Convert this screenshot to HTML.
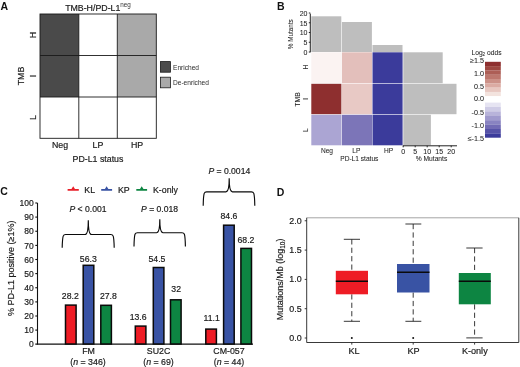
<!DOCTYPE html>
<html lang="en">
<head>
<meta charset="utf-8">
<title>Figure</title>
<style>
html,body{margin:0;padding:0;background:#fff;}
body{width:520px;height:367px;overflow:hidden;}
svg{display:block;}
svg text{font-family:"Liberation Sans",Arial,Helvetica,sans-serif;fill:#1a1a1a;stroke:#1a1a1a;stroke-width:0.18px;}
.b{font-weight:bold;fill:#111;stroke:none;}
.m{text-anchor:middle;}
#panelB text{stroke-width:0.06px;fill:#262626;}
#panelB text.b{stroke:none;fill:#111;}
.sm{stroke:none !important;fill:#2a2a2a !important;}
.e{text-anchor:end;}
</style>
</head>
<body>
<svg width="520" height="367" viewBox="0 0 520 367">
<rect x="0" y="0" width="520" height="367" fill="#ffffff"/>

<!-- ================= Panel A ================= -->
<g id="panelA">
<text class="b" x="0.5" y="10" font-size="10.5">A</text>
<text class="m" x="98" y="10.7" font-size="8.8">TMB-H/PD-L1<tspan font-size="6.3" dy="-3.4" style="stroke:none;fill:#333">neg</tspan></text>
<rect x="40" y="14" width="38.8" height="83" fill="#4a4a4a"/>
<rect x="117.3" y="14" width="39" height="83" fill="#a9a9a9"/>
<g stroke="#1a1a1a" stroke-width="0.9" fill="none">
<rect x="40" y="14" width="116.3" height="124.3"/>
<line x1="78.8" y1="14" x2="78.8" y2="138.3"/>
<line x1="117.3" y1="14" x2="117.3" y2="138.3"/>
<line x1="40" y1="55.5" x2="156.3" y2="55.5"/>
<line x1="40" y1="97" x2="156.3" y2="97"/>
</g>
<text class="m" font-size="8.8" transform="translate(35.7,35) rotate(-90)">H</text>
<text class="m" font-size="8.8" transform="translate(35.7,76) rotate(-90)">I</text>
<text class="m" font-size="8.8" transform="translate(35.7,117.5) rotate(-90)">L</text>
<text class="m" font-size="8.8" transform="translate(24.2,76) rotate(-90)">TMB</text>
<text class="m" x="60" y="148.1" font-size="8.8">Neg</text>
<text class="m" x="98" y="148.1" font-size="8.8">LP</text>
<text class="m" x="137" y="148.1" font-size="8.8">HP</text>
<text class="m" x="98" y="161.8" font-size="8.8">PD-L1 status</text>
<rect x="160.4" y="61.6" width="10" height="10.6" fill="#4b4b4b" stroke="#1a1a1a" stroke-width="0.8"/>
<rect x="160.4" y="77.2" width="10" height="10.6" fill="#a9a9a9" stroke="#1a1a1a" stroke-width="0.8"/>
<text class="sm" x="173" y="69.8" font-size="6.6">Enriched</text>
<text class="sm" x="173" y="85.3" font-size="6.6">De-enriched</text>
</g>

<!-- ================= Panel B ================= -->
<g id="panelB">
<text class="b" x="277" y="9.7" font-size="10.5">B</text>
<!-- top bars -->
<rect x="311.3" y="16.3" width="30" height="35.7" fill="#bebebe"/>
<rect x="341.9" y="22" width="30" height="30" fill="#bebebe"/>
<rect x="372.5" y="45" width="30" height="7" fill="#bebebe"/>
<!-- top axis -->
<g stroke="#222" stroke-width="1">
<line x1="310.3" y1="13.6" x2="310.3" y2="52.3"/>
<line x1="308.8" y1="13" x2="310.3" y2="13"/>
<line x1="308.8" y1="22.75" x2="310.3" y2="22.75"/>
<line x1="308.8" y1="32.5" x2="310.3" y2="32.5"/>
<line x1="308.8" y1="42.25" x2="310.3" y2="42.25"/>
<line x1="308.8" y1="52" x2="310.3" y2="52"/>
</g>
<g font-size="7" class="e">
<text x="307.5" y="15.9" class="e">20</text>
<text x="307.5" y="25.5" class="e">15</text>
<text x="307.5" y="35.2" class="e">10</text>
<text x="307.5" y="44.9" class="e">5</text>
<text x="307.5" y="54.6" class="e">0</text>
</g>
<text class="m" font-size="6.3" transform="translate(293.3,34.3) rotate(-90)">% Mutants</text>
<!-- heatmap -->
<rect x="311.3" y="52.3" width="30.1" height="30.9" fill="#fbf3f2"/>
<rect x="341.9" y="52.3" width="30.1" height="30.9" fill="#e3bfbb"/>
<rect x="372.5" y="52.3" width="30.1" height="30.9" fill="#3b3b9b"/>
<rect x="311.3" y="83.8" width="30.1" height="30.4" fill="#8e2f2f"/>
<rect x="341.9" y="83.8" width="30.1" height="30.4" fill="#e8c9c5"/>
<rect x="372.5" y="83.8" width="30.1" height="30.4" fill="#3b3b9b"/>
<rect x="311.3" y="114.8" width="30.1" height="30.5" fill="#aba5d3"/>
<rect x="341.9" y="114.8" width="30.1" height="30.5" fill="#7c75b8"/>
<rect x="372.5" y="114.8" width="30.1" height="30.5" fill="#3b3b9b"/>
<!-- right bars -->
<rect x="403.3" y="52.3" width="39.4" height="30.9" fill="#bebebe"/>
<rect x="403.3" y="83.8" width="53.2" height="30.4" fill="#bebebe"/>
<rect x="403.3" y="114.8" width="27.6" height="30.5" fill="#bebebe"/>
<!-- right axis -->
<g stroke="#222" stroke-width="1">
<line x1="402.8" y1="145.8" x2="457" y2="145.8"/>
<line x1="403.2" y1="145.7" x2="403.2" y2="147.3"/>
<line x1="415.2" y1="145.7" x2="415.2" y2="147.3"/>
<line x1="427.2" y1="145.7" x2="427.2" y2="147.3"/>
<line x1="439.2" y1="145.7" x2="439.2" y2="147.3"/>
<line x1="451.2" y1="145.7" x2="451.2" y2="147.3"/>
</g>
<g font-size="7">
<text class="m" x="403.2" y="153.8">0</text>
<text class="m" x="415.2" y="153.8">5</text>
<text class="m" x="427.2" y="153.8">10</text>
<text class="m" x="439.2" y="153.8">15</text>
<text class="m" x="451.2" y="153.8">20</text>
<text class="m" x="431.5" y="161" font-size="6.7">% Mutants</text>
</g>
<text class="m" font-size="6.8" transform="translate(308,67) rotate(-90)">H</text>
<text class="m" font-size="6.8" transform="translate(308,98.8) rotate(-90)">I</text>
<text class="m" font-size="6.8" transform="translate(308,130) rotate(-90)">L</text>
<text class="m" font-size="6.8" transform="translate(299.8,99.5) rotate(-90)">TMB</text>
<g font-size="6.6">
<text class="m" x="327" y="152.8">Neg</text>
<text class="m" x="356.3" y="152.8">LP</text>
<text class="m" x="388.7" y="152.8">HP</text>
<text class="m" x="359.3" y="160.6">PD-L1 status</text>
</g>
<!-- colour legend -->
<g id="cbar">
<rect x="485" y="61.8" width="15.8" height="4.4" fill="#8e2f2f"/>
<rect x="485" y="66.1" width="15.8" height="4.4" fill="#9d4640"/>
<rect x="485" y="70.4" width="15.8" height="4.4" fill="#ad5e56"/>
<rect x="485" y="74.7" width="15.8" height="4.4" fill="#bd776e"/>
<rect x="485" y="79.0" width="15.8" height="4.4" fill="#cc9188"/>
<rect x="485" y="83.3" width="15.8" height="4.4" fill="#dbaba3"/>
<rect x="485" y="87.6" width="15.8" height="4.4" fill="#e8c8c1"/>
<rect x="485" y="91.9" width="15.8" height="4.4" fill="#f3e3de"/>
<rect x="485" y="96.2" width="15.8" height="6.6" fill="#ffffff"/>
<rect x="485" y="102.6" width="15.8" height="4.5" fill="#e6e4f2"/>
<rect x="485" y="107.0" width="15.8" height="4.5" fill="#cfcce6"/>
<rect x="485" y="111.4" width="15.8" height="4.5" fill="#b8b3da"/>
<rect x="485" y="115.8" width="15.8" height="4.5" fill="#a09acd"/>
<rect x="485" y="120.2" width="15.8" height="4.5" fill="#8983c1"/>
<rect x="485" y="124.6" width="15.8" height="4.5" fill="#726bb5"/>
<rect x="485" y="129.0" width="15.8" height="4.5" fill="#5652a7"/>
<rect x="485" y="133.4" width="15.8" height="4.3" fill="#3b3b9b"/>
</g>
<text class="m" x="486.5" y="54.5" font-size="6.7">Log<tspan font-size="4.6" dy="1.6">2</tspan><tspan dy="-1.6"> odds</tspan></text>
<g font-size="7.2" class="e">
<text class="e" x="484" y="63">≥1.5</text>
<text class="e" x="484" y="75.5">1.0</text>
<text class="e" x="484" y="88.5">0.5</text>
<text class="e" x="484" y="101.2">0.0</text>
<text class="e" x="484" y="114.8">-0.5</text>
<text class="e" x="484" y="127.8">-1.0</text>
<text class="e" x="484" y="141">≤-1.5</text>
</g>
</g>

<!-- ================= Panel C ================= -->
<g id="panelC">
<text class="b" x="0.3" y="194.6" font-size="10.5">C</text>
<!-- legend -->
<g>
<path d="M67.6 189.8 H78.8 M72.2 189.4 L73.2 187.9 L74.2 189.4 Z" stroke="#e8202a" stroke-width="1.7" fill="#e8202a"/>
<text x="84.3" y="192.8" font-size="8.8">KL</text>
<path d="M101.2 189.8 H112.1 M105.6 189.4 L106.6 187.9 L107.6 189.4 Z" stroke="#3953a4" stroke-width="1.7" fill="#3953a4"/>
<text x="118" y="192.8" font-size="8.8">KP</text>
<path d="M136.3 189.8 H147.1 M140.7 189.4 L141.7 187.9 L142.7 189.4 Z" stroke="#0d8542" stroke-width="1.7" fill="#0d8542"/>
<text x="153" y="192.8" font-size="8.8">K-only</text>
</g>
<!-- axes -->
<g stroke="#111" stroke-width="1.1" fill="none">
<line x1="37.5" y1="203" x2="37.5" y2="344.6"/>
<line x1="35.3" y1="344.1" x2="253" y2="344.1"/>
<line x1="35.3" y1="203" x2="37.5" y2="203"/>
<line x1="35.3" y1="217.1" x2="37.5" y2="217.1"/>
<line x1="35.3" y1="231.25" x2="37.5" y2="231.25"/>
<line x1="35.3" y1="245.4" x2="37.5" y2="245.4"/>
<line x1="35.3" y1="259.5" x2="37.5" y2="259.5"/>
<line x1="35.3" y1="273.6" x2="37.5" y2="273.6"/>
<line x1="35.3" y1="287.75" x2="37.5" y2="287.75"/>
<line x1="35.3" y1="301.9" x2="37.5" y2="301.9"/>
<line x1="35.3" y1="316" x2="37.5" y2="316"/>
<line x1="35.3" y1="330.1" x2="37.5" y2="330.1"/>
</g>
<g font-size="8.5">
<text class="e" x="33.8" y="206.1">100</text>
<text class="e" x="33.8" y="220.3">90</text>
<text class="e" x="33.8" y="234.4">80</text>
<text class="e" x="33.8" y="248.6">70</text>
<text class="e" x="33.8" y="262.7">60</text>
<text class="e" x="33.8" y="276.8">50</text>
<text class="e" x="33.8" y="290.9">40</text>
<text class="e" x="33.8" y="305.1">30</text>
<text class="e" x="33.8" y="319.2">20</text>
<text class="e" x="33.8" y="333.3">10</text>
<text class="e" x="33.8" y="347.4">0</text>
</g>
<text class="m" font-size="9" transform="translate(13.5,268.2) rotate(-90)">% PD-L1 positive (≥1%)</text>
<!-- bars -->
<g stroke="#0a0a0a" stroke-width="1.5">
<rect x="65.5" y="305.1" width="10.6" height="38.9" fill="#ee1c25"/>
<rect x="83.2" y="265.3" width="10.6" height="78.7" fill="#3953a4"/>
<rect x="100.8" y="305.3" width="10.6" height="38.7" fill="#0d8542"/>
<rect x="135.3" y="326.1" width="10.6" height="17.9" fill="#ee1c25"/>
<rect x="153.3" y="267.5" width="10.6" height="76.5" fill="#3953a4"/>
<rect x="170.5" y="299.8" width="10.6" height="44.2" fill="#0d8542"/>
<rect x="205.8" y="329.1" width="10.6" height="14.9" fill="#ee1c25"/>
<rect x="223.6" y="225.2" width="10.6" height="118.8" fill="#3953a4"/>
<rect x="240.9" y="248.4" width="10.6" height="95.6" fill="#0d8542"/>
</g>
<!-- value labels -->
<g font-size="8.7">
<text class="m" x="70.3" y="299.3">28.2</text>
<text class="m" x="88.3" y="262">56.3</text>
<text class="m" x="108.4" y="299.3">27.8</text>
<text class="m" x="138.1" y="320.3">13.6</text>
<text class="m" x="157" y="262">54.5</text>
<text class="m" x="176.2" y="292.3">32</text>
<text class="m" x="211.7" y="320.5">11.1</text>
<text class="m" x="229" y="219">84.6</text>
<text class="m" x="246" y="243.4">68.2</text>
</g>
<!-- braces -->
<g stroke="#0a0a0a" stroke-width="1.15" fill="none" stroke-linejoin="miter">
<path d="M62.2 247.7 Q62.4 238.5 63.2 236.1 Q63.8 234.5 65.6 234.5 H85.1 Q88.3 234.5 88.3 220.2 Q88.3 234.5 91.5 234.5 H110.8 Q112.6 234.5 113.2 236.1 Q114.0 238.5 114.2 247.7"/>
<path d="M134.0 246.5 Q134.2 236.7 135.0 234.3 Q135.6 232.7 137.4 232.7 H156.6 Q159.8 232.7 159.8 219.2 Q159.8 232.7 163.0 232.7 H182.0 Q183.8 232.7 184.4 234.3 Q185.2 236.7 185.4 246.5"/>
<path d="M203.2 205.7 Q203.4 195.8 204.2 193.4 Q204.8 191.8 206.6 191.8 H226.0 Q229.2 191.8 229.2 178.3 Q229.2 191.8 232.4 191.8 H251.4 Q253.2 191.8 253.8 193.4 Q254.6 195.8 254.8 205.7"/>
</g>
<g font-size="8.6">
<text class="m" x="88" y="212.2"><tspan font-style="italic">P</tspan> &lt; 0.001</text>
<text class="m" x="159.6" y="211.9"><tspan font-style="italic">P</tspan> = 0.018</text>
<text class="m" x="229.3" y="173.7"><tspan font-style="italic">P</tspan> = 0.0014</text>
</g>
<g font-size="8.8">
<text class="m" x="88.6" y="354.4">FM</text>
<text class="m" x="88" y="365.4">(<tspan font-style="italic">n</tspan> = 346)</text>
<text class="m" x="158.5" y="354.4">SU2C</text>
<text class="m" x="158.5" y="365.4">(<tspan font-style="italic">n</tspan> = 69)</text>
<text class="m" x="229" y="354.4">CM-057</text>
<text class="m" x="229" y="365.4">(<tspan font-style="italic">n</tspan> = 44)</text>
</g>
</g>

<!-- ================= Panel D ================= -->
<g id="panelD">
<text class="b" x="276.8" y="195.6" font-size="10.5">D</text>
<!-- frame -->
<line x1="306.7" y1="217.8" x2="518.8" y2="217.8" stroke="#9a9a9a" stroke-width="0.9"/>
<path d="M306.7 217.8 V342.5 H518.8 V217.8" stroke="#222" stroke-width="0.9" fill="none"/>
<g stroke="#222" stroke-width="0.9">
<line x1="304.7" y1="220.75" x2="306.7" y2="220.75"/>
<line x1="304.7" y1="250.1" x2="306.7" y2="250.1"/>
<line x1="304.7" y1="279.4" x2="306.7" y2="279.4"/>
<line x1="304.7" y1="308.7" x2="306.7" y2="308.7"/>
<line x1="304.7" y1="338" x2="306.7" y2="338"/>
<line x1="351.8" y1="342.5" x2="351.8" y2="344.6"/>
<line x1="413.2" y1="342.5" x2="413.2" y2="344.6"/>
<line x1="474.6" y1="342.5" x2="474.6" y2="344.6"/>
</g>
<g font-size="8.9">
<text class="e" x="301.6" y="224">2.0</text>
<text class="e" x="301.6" y="252.8">1.5</text>
<text class="e" x="301.6" y="282">1.0</text>
<text class="e" x="301.6" y="311.5">0.5</text>
<text class="e" x="301.6" y="341.2">0.0</text>
</g>
<text class="m" font-size="9" transform="translate(283.3,279.4) rotate(-90)">Mutations/Mb (log<tspan font-size="6.6" dy="1.6">10</tspan><tspan dy="-1.6">)</tspan></text>
<!-- KL -->
<g stroke="#222" stroke-width="0.9" fill="none">
<line x1="351.8" y1="239.3" x2="351.8" y2="270.8" stroke-dasharray="5.2 3.2"/>
<line x1="351.8" y1="294.3" x2="351.8" y2="321.3" stroke-dasharray="5.2 3.2"/>
<line x1="343.8" y1="239.3" x2="360" y2="239.3"/>
<line x1="343.8" y1="321.3" x2="360" y2="321.3"/>
</g>
<rect x="335.8" y="270.8" width="32.2" height="23.5" fill="#ee1c25"/>
<line x1="335.8" y1="281.3" x2="368" y2="281.3" stroke="#0a0a0a" stroke-width="1.6"/>
<circle cx="351.8" cy="338" r="1" fill="#111"/>
<!-- KP -->
<g stroke="#222" stroke-width="0.9" fill="none">
<line x1="413.2" y1="224" x2="413.2" y2="264" stroke-dasharray="5.2 3.2"/>
<line x1="413.2" y1="292.5" x2="413.2" y2="321.3" stroke-dasharray="5.2 3.2"/>
<line x1="405.4" y1="224" x2="421.3" y2="224"/>
<line x1="405.4" y1="321.3" x2="421.3" y2="321.3"/>
</g>
<rect x="397" y="264" width="32.5" height="28.5" fill="#3953a4"/>
<line x1="397" y1="272.3" x2="429.5" y2="272.3" stroke="#0a0a0a" stroke-width="1.6"/>
<circle cx="413.2" cy="338" r="1" fill="#111"/>
<!-- K-only -->
<g stroke="#222" stroke-width="0.9" fill="none">
<line x1="474.6" y1="248" x2="474.6" y2="273" stroke-dasharray="5.2 3.2"/>
<line x1="474.6" y1="304.3" x2="474.6" y2="337.9" stroke-dasharray="5.2 3.2"/>
<line x1="466.3" y1="248" x2="482.6" y2="248"/>
<line x1="466.3" y1="337.9" x2="482.6" y2="337.9"/>
</g>
<rect x="458.8" y="273" width="32" height="31.3" fill="#0d8542"/>
<line x1="458.8" y1="281.3" x2="490.8" y2="281.3" stroke="#0a0a0a" stroke-width="1.6"/>
<g font-size="9.1">
<text class="m" x="354" y="354.2">KL</text>
<text class="m" x="413.5" y="354.2">KP</text>
<text class="m" x="474.8" y="354.2">K-only</text>
</g>
</g>
</svg>
</body>
</html>
